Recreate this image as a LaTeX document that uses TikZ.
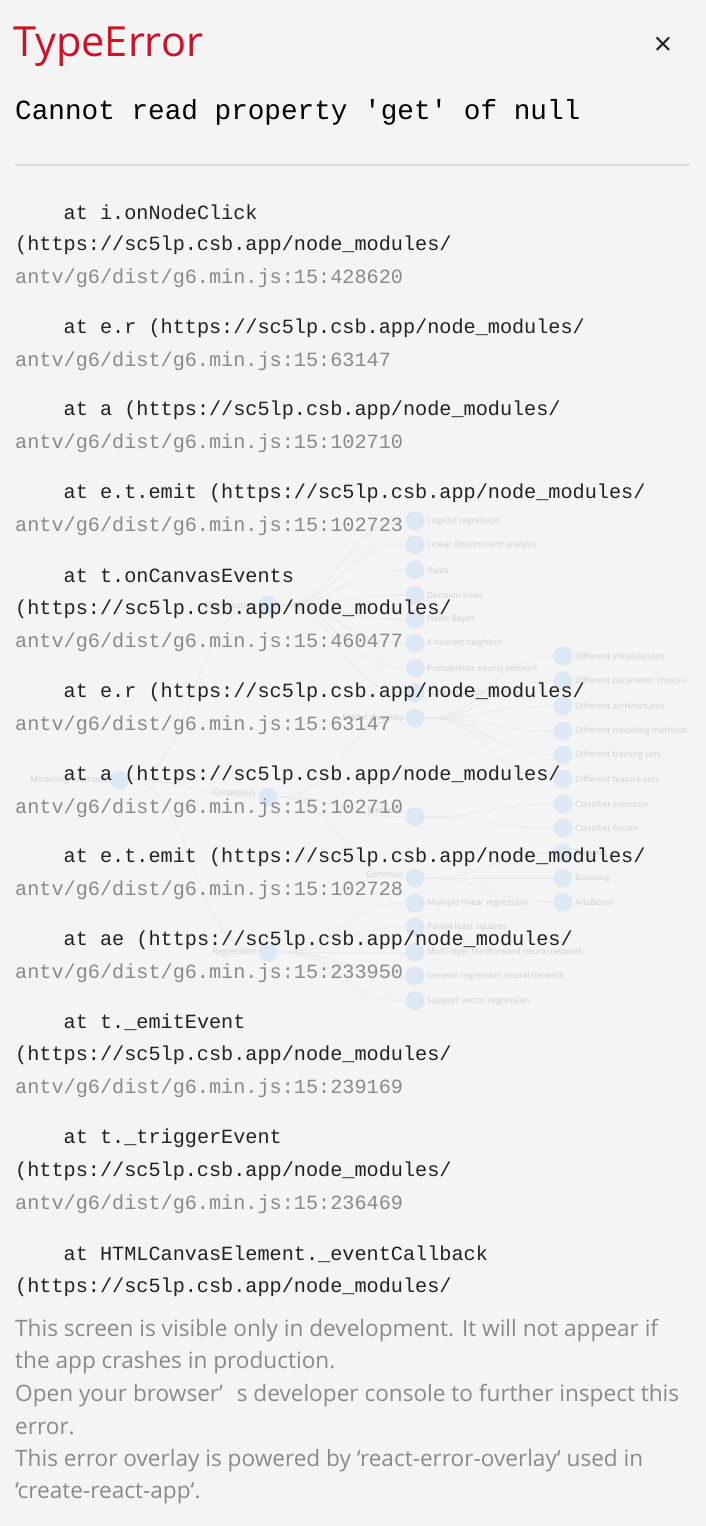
\documentclass[tikz,border=0pt]{standalone}
\usepackage{fontspec}
\setmainfont{Open Sans}
\setmonofont{Liberation Mono}
\definecolor{bg}{HTML}{F4F4F4}
\definecolor{errred}{HTML}{CE1126}
\definecolor{dark}{HTML}{222222}
\definecolor{grey}{HTML}{8A8A8A}
\definecolor{gnode}{HTML}{DCE8F4}
\definecolor{gedge}{HTML}{E8E8E8}
\definecolor{glabel}{HTML}{CFCFCF}
\newcommand{\btick}{\char96{}}
\tikzset{
  gn/.style={circle,fill=gnode,minimum size=19pt,inner sep=0pt},
  gl/.style={text=glabel,font=\fontsize{8.5}{10}\selectfont,inner sep=0pt},
  ge/.style={draw=gedge,line width=0.8pt},
  mono/.style={anchor=west,inner sep=0pt,font=\ttfamily\fontsize{20.2}{22}\selectfont,text=dark},
  monog/.style={mono,text=grey},
  foot/.style={anchor=west,inner sep=0pt,font=\fontsize{22.6}{24}\selectfont,text=grey}
}
\begin{document}
\begin{tikzpicture}[x=1pt,y=-1pt]
\fill[bg] (0,0) rectangle (706,1526);
\useasboundingbox (0,0) rectangle (706,1526);
% background graph
\node[gn] (root) at (119,780) {};
\node[gn] (cls) at (268,605) {};
\node[gn] (con) at (268,797) {};
\node[gn] (reg) at (268,952) {};
\node[gl,anchor=east] at (107,780) {Modelling methods};
\node[gl,anchor=east] at (256,605) {Classification};
\node[gl,anchor=east] at (256,792) {Consensus};
\node[gl,anchor=east] at (256,952) {Regression};
\foreach \c/\y in {cls/605,con/797,reg/952}{\draw[ge] (root) .. controls (193,780) and (193,\y) .. (\c);}
\foreach \y/\t [count=\i] in {521/Logistic regression,545/Linear discriminant analysis,570/Rules,595/Decision trees,619/Naive Bayes,643/K nearest neighbor,668/Probabilistic neural network,693/Support vector machine}{
  \node[gn] (c\i) at (415,\y) {};
  \node[gl,anchor=west] at (427,\y) {\t};
  \draw[ge] (cls) .. controls (341,605) and (341,\y) .. (c\i);
}
\node[gn] (div) at (415,718) {};
\node[gn] (met) at (415,817) {};
\node[gn] (com) at (415,878) {};
\node[gl,anchor=east] at (403,718) {Model diversity};
\node[gl,anchor=east] at (403,810) {Methods};
\node[gl,anchor=east] at (403,874) {Common};
\draw[ge] (con) .. controls (341,797) and (341,718) .. (div);
\draw[ge] (con) .. controls (341,797) and (341,817) .. (met);
\draw[ge] (con) .. controls (341,797) and (341,878) .. (com);
\foreach \y/\t [count=\i] in {656/Different initializations,681/Different parameter choices,706/Different architectures,731/Different modeling methods,755/Different training sets,779/Different feature sets}{
  \node[gn] (d\i) at (563,\y) {};
  \node[gl,anchor=west] at (575,\y) {\t};
  \draw[ge] (div) .. controls (489,718) and (489,\y) .. (d\i);
}
\foreach \y/\t [count=\i] in {804/Classifier selection,828/Classifier fusion}{
  \node[gn] (m\i) at (563,\y) {};
  \node[gl,anchor=west] at (575,\y) {\t};
  \draw[ge] (met) .. controls (489,817) and (489,\y) .. (m\i);
}
\foreach \y/\t [count=\i] in {853/Bagging,878/Boosting,902/AdaBoost}{
  \node[gn] (k\i) at (563,\y) {};
  \node[gl,anchor=west] at (575,\y) {\t};
  \draw[ge] (com) .. controls (489,878) and (489,\y) .. (k\i);
}
\foreach \y/\t [count=\i] in {903/Multiple linear regression,927/Partial least squares,952/Multi-layer feedforward neural network,976/General regression neural network,1001/Support vector regression}{
  \node[gn] (r\i) at (415,\y) {};
  \node[gl,anchor=west] at (427,\y) {\t};
  \draw[ge] (reg) .. controls (341,952) and (341,\y) .. (r\i);
}
% overlay
\node[anchor=west,inner sep=0pt,text=errred,font=\fontsize{41.5}{44}\selectfont] (title) at (13,47) {TypeError};
\node[inner sep=0pt,text=dark,font=\fontsize{32}{32}\selectfont] (close) at (663,46) {×};
\node[anchor=west,inner sep=0pt,text=black,font=\ttfamily\fontsize{27.7}{30}\selectfont] (msg) at (15,112) {Cannot read property 'get' of null};
\draw[draw=black!13,line width=1.2pt] (15,165) -- (690,165);
\foreach \y/\t in {
 212/{\ \ \ \ at i.onNodeClick},245/{(https://sc5lp.csb.app/node\_modules/},
 328/{\ \ \ \ at e.r (https://sc5lp.csb.app/node\_modules/},
 410/{\ \ \ \ at a (https://sc5lp.csb.app/node\_modules/},
 493/{\ \ \ \ at e.t.emit (https://sc5lp.csb.app/node\_modules/},
 576/{\ \ \ \ at t.onCanvasEvents},609/{(https://sc5lp.csb.app/node\_modules/},
 692/{\ \ \ \ at e.r (https://sc5lp.csb.app/node\_modules/},
 775/{\ \ \ \ at a (https://sc5lp.csb.app/node\_modules/},
 857/{\ \ \ \ at e.t.emit (https://sc5lp.csb.app/node\_modules/},
 940/{\ \ \ \ at ae (https://sc5lp.csb.app/node\_modules/},
 1022/{\ \ \ \ at t.\_emitEvent},1055/{(https://sc5lp.csb.app/node\_modules/},
 1138/{\ \ \ \ at t.\_triggerEvent},1171/{(https://sc5lp.csb.app/node\_modules/},
 1254/{\ \ \ \ at HTMLCanvasElement.\_eventCallback},1287/{(https://sc5lp.csb.app/node\_modules/}}
 {\node[mono] at (15,\y) {\t};}
\foreach \y/\t in {278/428620,361/63147,443/102710,526/102723,642/460477,725/63147,808/102710,890/102728,973/233950,1088/239169,1204/236469}
 {\node[monog] at (15,\y) {antv/g6/dist/g6.min.js:15:\t};}
\foreach \y/\t in {
 1331/{This screen is visible only in development. It will not appear if},
 1363/{the app crashes in production.},
 1396/{Open your browser\rlap{’}\ \ \ s developer console to further inspect this},
 1428/{error.},
 1461/{This error overlay is powered by \btick react-error-overlay\btick{} used in},
 1493/{\btick create-react-app\btick.}}
 {\node[foot] at (15,\y) {\t};}
\end{tikzpicture}
\end{document}
